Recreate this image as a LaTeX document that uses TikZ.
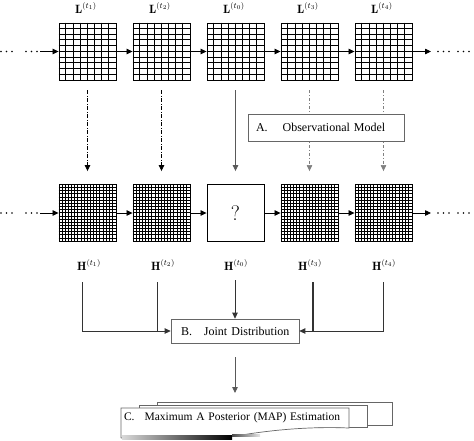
\documentclass[tikz,border=0pt]{standalone}
\usepackage{fontspec}
\newfontfamily\tnr{Liberation Serif}
\usetikzlibrary{arrows.meta,calc}
\newcommand\lgridlines[1]{%
  \begin{scope}[shift={(#1.north west)},line width=0.45pt]
    \foreach \i in {1,2,3,4,5,7} \draw ({\i*57/8},0) -- ({\i*57/8},57);
    \foreach \i in {6} \draw[line width=1pt] ({\i*57/8},0) -- ({\i*57/8},57);
    \foreach \j in {2,4,5,6,7,8,9} \draw (0,{\j*5.7}) -- (57,{\j*5.7});
    \foreach \j in {1,3} \draw[line width=1pt] (0,{\j*5.7}) -- (57,{\j*5.7});
  \end{scope}}
\newcommand\hgridlines[1]{%
  \begin{scope}[shift={(#1.north west)},line width=0.35pt]
    \foreach \i in {1,2,4,5,7,8,10,11,12,14,15,17} {\draw ({\i*57/18},0) -- ({\i*57/18},57); \draw (0,{\i*57/18}) -- (57,{\i*57/18});}
    \foreach \i in {3,6,9,13,16} {\draw[line width=0.9pt] ({\i*57/18},0) -- ({\i*57/18},57); \draw[line width=0.9pt] (0,{\i*57/18}) -- (57,{\i*57/18});}
  \end{scope}}
\tikzset{
  gridbox/.style={draw, line width=0.9pt, minimum width=57pt, minimum height=57pt, inner sep=0pt},
  arr/.style={-{Triangle[length=6pt,width=5.5pt]}, line width=0.8pt},
  dashdot/.style={arr, dash pattern=on 4pt off 1.5pt on 1pt off 1.5pt},
  dashdotgray/.style={-{Triangle[length=6pt,width=5.5pt]}, draw=gray, line width=0.5pt, dash pattern=on 3pt off 2pt on 0.8pt off 2pt},
  dotsline/.style={line width=1.7pt, line cap=round, dash pattern=on 0pt off 5.5pt},
  lab/.style={font=\fontsize{12}{14}\selectfont, inner sep=0pt},
  txtbox/.style={draw=gray!80!black, fill=white, line width=0.7pt, font=\tnr\fontsize{12}{14}\selectfont, align=left},
  conn/.style={draw=black!80, line width=0.8pt}
}
\begin{document}
\begin{tikzpicture}[x=1pt,y=-1pt]
\useasboundingbox (0,0) rectangle (474,440);
% top row
\foreach \n/\x in {1/87.5,2/161.5,3/235.5,4/309.5,5/383.5}{
  \node[gridbox] (L\n) at (\x,51.5) {};
  \lgridlines{L\n}
}
\node[lab] (lt1) at (86,8) {$\mathbf{L}^{(t_1)}$};
\node[lab] (lt2) at (160,8) {$\mathbf{L}^{(t_2)}$};
\node[lab] (lt0) at (234,8) {$\mathbf{L}^{(t_0)}$};
\node[lab] (lt3) at (308,8) {$\mathbf{L}^{(t_3)}$};
\node[lab] (lt4) at (382,8) {$\mathbf{L}^{(t_4)}$};
% middle row
\node[gridbox] (H1) at (87.5,213) {}; \hgridlines{H1}
\node[gridbox] (H2) at (161.5,213) {}; \hgridlines{H2}
\node[gridbox, font=\fontsize{21}{24}\selectfont] (H3) at (235.5,213) {?};
\node[gridbox] (H4) at (309.5,213) {}; \hgridlines{H4}
\node[gridbox] (H5) at (383.5,213) {}; \hgridlines{H5}
\node[lab] (ht1) at (89,265) {$\mathbf{H}^{(t_1)}$};
\node[lab] (ht2) at (163,265) {$\mathbf{H}^{(t_2)}$};
\node[lab] (ht0) at (236,265) {$\mathbf{H}^{(t_0)}$};
\node[lab] (ht3) at (310,265) {$\mathbf{H}^{(t_3)}$};
\node[lab] (ht4) at (384,265) {$\mathbf{H}^{(t_4)}$};
% horizontal arrows, top
\coordinate (tl1) at (1,51.5); \coordinate (tl2) at (13,51.5);
\coordinate (tl3) at (26,51.5); \coordinate (tl4) at (40,51.5);
\draw[dotsline] (tl1) -- (tl2); \draw[dotsline] (tl3) -- (tl4);
\draw[arr] (tl4) -- (L1.west);
\foreach \a/\b in {1/2,2/3,3/4,4/5} \draw[arr] (L\a) -- (L\b);
\coordinate (tr1) at (431,51.5); \coordinate (tr2) at (438,51.5);
\coordinate (tr3) at (458,51.5); \coordinate (tr4) at (472,51.5);
\draw[arr] (L5.east) -- (tr1);
\draw[dotsline] (tr2) -- ($(tr2)+(12,0)$); \draw[dotsline] (tr3) -- (tr4);
% horizontal arrows, middle
\coordinate (ml1) at (1,213); \coordinate (ml2) at (13,213);
\coordinate (ml3) at (26,213); \coordinate (ml4) at (40,213);
\draw[dotsline] (ml1) -- (ml2); \draw[dotsline] (ml3) -- (ml4);
\draw[arr] (ml4) -- (H1.west);
\foreach \a/\b in {1/2,2/3,3/4,4/5} \draw[arr] (H\a) -- (H\b);
\coordinate (mr1) at (431,213); \coordinate (mr2) at (438,213);
\coordinate (mr3) at (458,213); \coordinate (mr4) at (472,213);
\draw[arr] (H5.east) -- (mr1);
\draw[dotsline] (mr2) -- ($(mr2)+(12,0)$); \draw[dotsline] (mr3) -- (mr4);
% vertical arrows
\draw[dashdot] ([yshift=-10pt]L1.south) -- ([yshift=13pt]H1.north);
\draw[dashdot] ([yshift=-10pt]L2.south) -- ([yshift=13pt]H2.north);
\draw[-{Triangle[length=6pt,width=5.5pt]}, draw=gray!70!black, line width=0.7pt] ([yshift=-10pt]L3.south) -- ([yshift=13pt]H3.north);
\draw[dashdotgray] ([yshift=-10pt]L4.south) -- ([yshift=13pt]H4.north);
\draw[dashdotgray] ([yshift=-10pt]L5.south) -- ([yshift=13pt]H5.north);
% box A
\node[txtbox, minimum width=156pt, minimum height=27pt, text width=148pt, inner xsep=4pt] (A) at (326,127.5) {\hspace*{4pt}A.\hspace{15pt}Observational Model};
% box B
\node[txtbox, minimum width=128pt, minimum height=24pt, text width=120pt, inner xsep=4pt] (B) at (235,331) {\hspace*{6pt}B.\hspace{12pt}Joint Distribution};
% bottom connectors
\coordinate (c1) at (82,282); \coordinate (c2) at (157,282);
\coordinate (c3) at (235,280); \coordinate (c4) at (313,282);
\coordinate (c5) at (383,282);
\draw[conn, arr] (c1) |- (B.west);
\draw[conn] (c2) -- (c2 |- B.west);
\draw[conn, arr] (c3) -- (B.north);
\draw[conn, arr] (c5) |- (B.east);
\draw[conn, line width=1.3pt] (c4) -- (c4 |- B.east);
% box C stack
\draw[draw=gray!80!black, fill=white, line width=0.7pt] (157,402) rectangle (392,425);
\draw[draw=gray!80!black, fill=white, line width=0.7pt] (139,405) rectangle (367,427);
\draw[draw=gray!80!black, fill=white, line width=0.7pt] (121,438) -- (121,408) -- (349,408) -- (349,428) .. controls (300,426) and (260,432) .. (235,436) .. controls (200,440) and (150,438) .. (121,438);
\shade[left color=gray!30, right color=black] (122,435.5) rectangle (232,439);
\shade[left color=black!70, right color=gray!20] (232,434.5) rectangle (260,436.5);
\node[font=\tnr\fontsize{11.5}{13}\selectfont, text width=224pt, align=left, inner sep=0pt] (C) at (236,418) {C.\hspace{10pt}Maximum A Posterior (MAP) Estimation};
\coordinate (cTop) at (235,393);
\draw[arr, draw=gray!70!black] ([yshift=-14pt]B.south) -- (cTop);
\end{tikzpicture}
\end{document}
